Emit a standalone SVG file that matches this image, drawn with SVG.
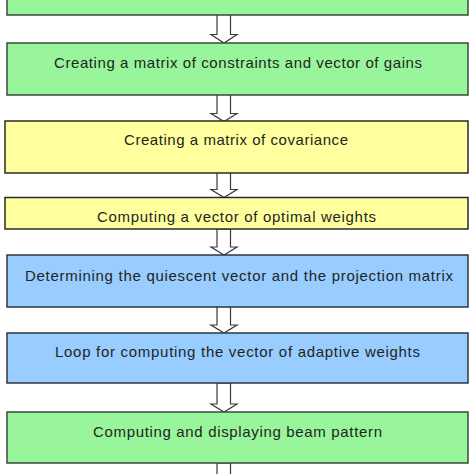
<svg xmlns="http://www.w3.org/2000/svg" width="474" height="474" viewBox="0 0 474 474">
<style>
.bg{fill:#ffffff}
.box{stroke-width:1.5}
.g{fill:#99f59b;stroke:#3a4a3a}
.y{fill:#ffff9e;stroke:#2a2a2a}
.b{fill:#99ccff;stroke:#2f3640}
.t{font-family:"Liberation Sans",Arial,sans-serif;font-size:15px;text-anchor:middle;fill:#1e261e}
.arr{fill:#ffffff;stroke:#3a3a3a;stroke-width:1.2;stroke-linejoin:miter}
</style>
<rect class="bg" x="0" y="0" width="474" height="474"/>
<g id="connectors">
<path class="arr" d="M217,14 H230.5 V34.5 H237 L224,43 L211,34.5 H217 Z"/>
<path class="arr" d="M217,94.5 H230.5 V113.5 H237 L224,121.5 L211,113.5 H217 Z"/>
<path class="arr" d="M217,172.5 H230.5 V189.5 H237 L224,197.5 L211,189.5 H217 Z"/>
<path class="arr" d="M217,229 H230.5 V247 H237 L224,255 L211,247 H217 Z"/>
<path class="arr" d="M217,306.5 H230.5 V325 H237 L224,333 L211,325 H217 Z"/>
<path class="arr" d="M217,383 H230.5 V404 H237 L224,412 L211,404 H217 Z"/>
<path class="arr" d="M217,463 H230.5 V480 H217 Z"/>
</g>
<g id="n1"><rect class="box g" x="7" y="-20" width="461" height="35"/></g>
<g id="n2"><rect class="box g" x="7" y="43" width="461" height="52"/>
<text class="t" x="238" y="67.5" textLength="368">Creating a matrix of constraints and vector of gains</text></g>
<g id="n3"><rect class="box y" x="5" y="121" width="463" height="52"/>
<text class="t" x="236" y="144.5" textLength="224">Creating a matrix of covariance</text></g>
<g id="n4"><rect class="box y" x="5" y="197.5" width="463" height="31.5"/>
<text class="t" x="236.5" y="221.5" textLength="279">Computing a vector of optimal weights</text></g>
<g id="n5"><rect class="box b" x="7" y="255" width="461" height="52"/>
<text class="t" x="239" y="280.5" textLength="428">Determining the quiescent vector and the projection matrix</text></g>
<g id="n6"><rect class="box b" x="7" y="333" width="461" height="50"/>
<text class="t" x="237.5" y="356.5" textLength="365">Loop for computing the vector of adaptive weights</text></g>
<g id="n7"><rect class="box g" x="7" y="412" width="461" height="51"/>
<text class="t" x="237.5" y="436.5" textLength="289">Computing and displaying beam pattern</text></g>
</svg>
